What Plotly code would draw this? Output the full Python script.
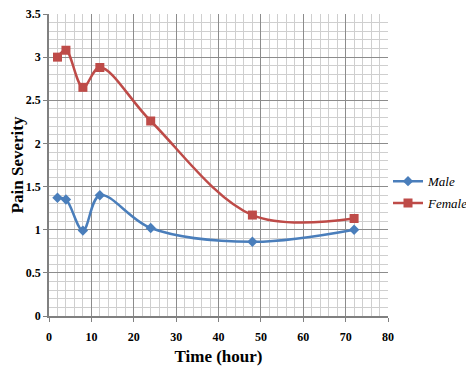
import plotly.graph_objects as go

hours = [2, 4, 8, 12, 24, 48, 72]
male = [1.37, 1.35, 0.99, 1.40, 1.02, 0.86, 1.00]
female = [3.00, 3.08, 2.65, 2.88, 2.26, 1.17, 1.13]

serif = "Liberation Serif"
# the page body adds an 8px margin; size the figure so no scrollbars appear
W, H = 458, 358
L, R, T, B = 41, 78, 6, 50

fig = go.Figure()
fig.add_trace(go.Scatter(
    x=hours, y=male, name="<i>Male</i>", mode="lines+markers", legendgroup="m",
    line=dict(color="#4a7ebb", width=2.5, shape="spline", smoothing=1.0),
    marker=dict(symbol="diamond", size=8, color="#4a7ebb"),
))
fig.add_trace(go.Scatter(
    x=hours, y=female, name="<i>Female</i>", mode="lines+markers", legendgroup="f",
    line=dict(color="#be4b48", width=2.5, shape="spline", smoothing=1.0),
    marker=dict(symbol="square", size=9, color="#be4b48"),
))

fig.update_layout(
    width=W, height=H,
    margin=dict(l=L, r=R, t=T, b=B, autoexpand=False),
    paper_bgcolor="white", plot_bgcolor="white",
    font=dict(family=serif, color="black"),
    showlegend=True,
    legend=dict(x=1.0, y=0.41, xanchor="left", yanchor="middle",
                font=dict(family=serif, size=13, color="black"),
                traceorder="grouped", tracegroupgap=2,
                bgcolor="rgba(0,0,0,0)", itemwidth=30),
)
fig.update_xaxes(
    range=[0, 80], dtick=10, tick0=0, automargin=False,
    showgrid=True, gridcolor="#8c8c8c", gridwidth=1,
    minor=dict(dtick=2, showgrid=True, gridcolor="#cfcfcf", gridwidth=1),
    showline=True, linecolor="#808080", linewidth=1.5,
    ticks="outside", ticklen=4, tickcolor="#808080", ticklabelstandoff=5,
    tickfont=dict(family=serif, size=12, weight=700),
    title=dict(text="<b>Time (hour)</b>", font=dict(family=serif, size=17), standoff=7),
    zeroline=False,
)
fig.update_yaxes(
    range=[0, 3.5], dtick=0.5, tick0=0, automargin=False,
    ticklabeloverflow="allow",
    showgrid=True, gridcolor="#8c8c8c", gridwidth=1,
    minor=dict(dtick=0.1, showgrid=True, gridcolor="#cfcfcf", gridwidth=1),
    showline=True, linecolor="#808080", linewidth=1.5,
    ticks="outside", ticklen=4, tickcolor="#808080",
    tickfont=dict(family=serif, size=12, weight=700),
    title=dict(text="<b>Pain Severity</b>", font=dict(family=serif, size=17), standoff=5),
    zeroline=False,
)

fig.write_html("out.html")
